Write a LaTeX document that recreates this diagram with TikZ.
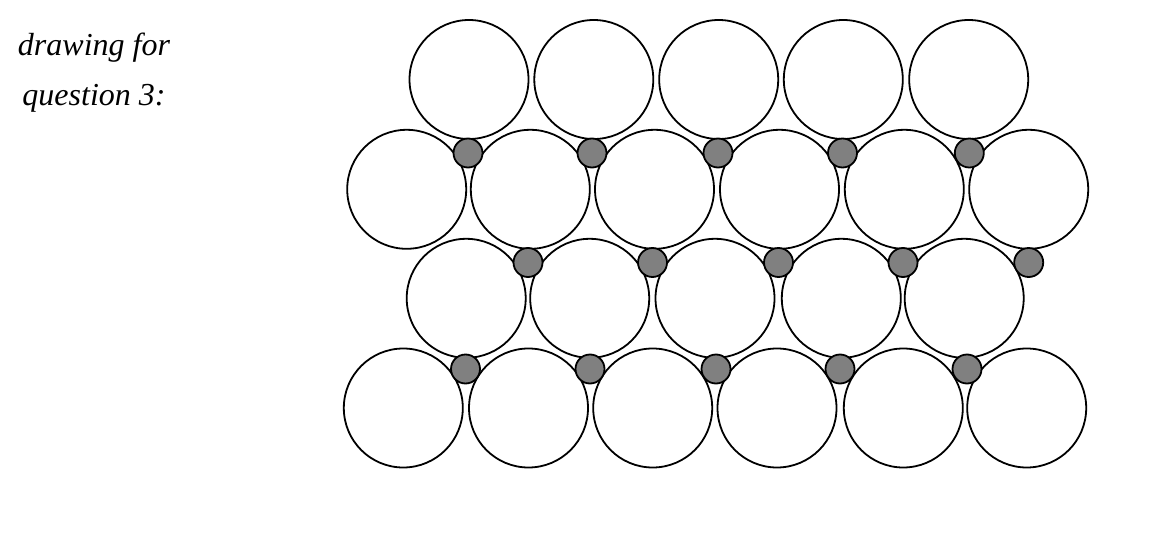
\documentclass[tikz,border=0pt]{standalone}
\usepackage{fontspec}
\setmainfont{Liberation Serif}
\usepackage{tikz}
\usetikzlibrary{positioning}

\tikzset{
  ball/.style={draw, circle, line width=1.8pt, inner sep=0pt, minimum size=119pt, fill=white},
  gap/.style={draw, circle, line width=1.8pt, inner sep=0pt, minimum size=29pt, fill=gray},
}

\begin{document}
\begin{tikzpicture}[x=1pt, y=-1pt]

\useasboundingbox (0,0) rectangle (1166,540);

\node[font=\itshape\fontsize{32}{50}\selectfont, align=center] (caption) at (94,72.5) {drawing for\\question 3:};

% large spheres, row by row
\foreach \x [count=\i] in {469,593.8,718.7,843.3,968.7}
  \node[ball] (a\i) at (\x,79.5) {};
\foreach \x [count=\i] in {406.7,530.3,654.5,779.5,904.3,1028.7}
  \node[ball] (b\i) at (\x,189.3) {};
\foreach \x [count=\i] in {466.2,589.7,715,841.3,964.2}
  \node[ball] (c\i) at (\x,298.3) {};
\foreach \x [count=\i] in {403.3,528.5,652.7,777,903.3,1026.7}
  \node[ball] (d\i) at (\x,408) {};

% small spheres in the holes
\foreach \x [count=\i] in {468,592,718,842.5,969.3}
  \node[gap] (p\i) at (\x,153) {};
\foreach \x [count=\i] in {528,652.5,778.5,903,1028.7}
  \node[gap] (q\i) at (\x,262.5) {};
\foreach \x [count=\i] in {465.5,590,716,840,967}
  \node[gap] (r\i) at (\x,369) {};

\end{tikzpicture}
\end{document}
